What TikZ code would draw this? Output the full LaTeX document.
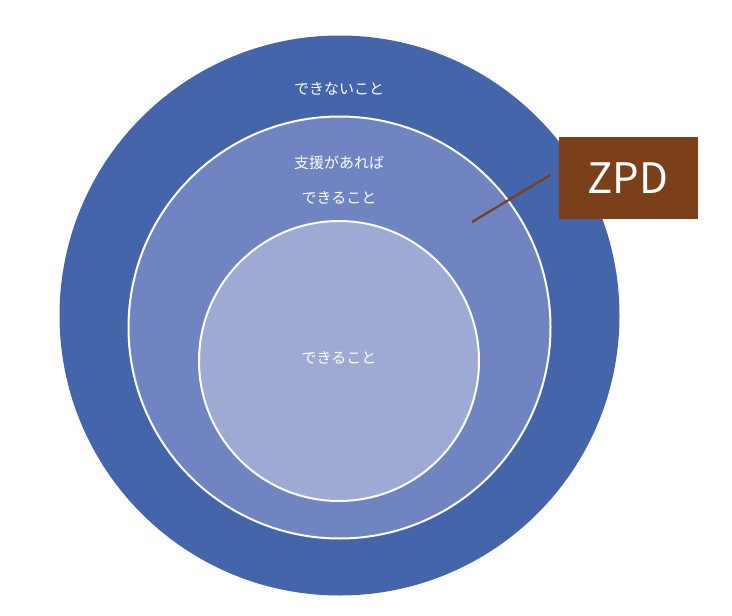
\documentclass[tikz,border=0pt]{standalone}
\usepackage{fontspec}
\setmainfont{Noto Sans CJK JP}
\usetikzlibrary{positioning}
\definecolor{outerblue}{HTML}{4565AB}
\definecolor{middleblue}{HTML}{6F84C0}
\definecolor{innerblue}{HTML}{9FAAD4}
\definecolor{zpdbrown}{HTML}{7B3F1A}

\begin{document}
\begin{tikzpicture}[
                    x=1pt, y=-1pt,
                    ring/.style={circle, draw=white, line width=2pt},
                    label/.style={text=white, font=\fontsize{15}{17}\selectfont, inner sep=0pt},
                    zpdbox/.style={rectangle, fill=zpdbrown, text=white, minimum width=139pt, minimum height=82pt, font=\fontsize{42}{46}\selectfont},
                    lead/.style={draw=zpdbrown, line width=2.2pt}
                ]
                    \useasboundingbox (0,0) rectangle (732,616);
                    \node[circle, fill=outerblue, minimum size=560pt, inner sep=0pt] (outer) at (339.5,315.5) {};
                    \node[ring, fill=middleblue, minimum size=422pt, inner sep=0pt] (middle) at (339.5,327.5) {};
                    \node[ring, fill=innerblue, minimum size=280pt, inner sep=0pt] (inner) at (339,361) {};

                    \node[label] (cannot) at (339,89) {できないこと};
                    \node[label] (support) at (339,163) {支援があれば};
                    \node[label, below=21pt of support] (assisted) {できること};
                    \node[label] (can) at (339,358) {できること};

                    \node[zpdbox] (zpd) at (628,178) {ZPD};
                    \coordinate (leadend) at (472,222);
                    \draw[lead] (leadend) -- ([xshift=-8pt,yshift=3pt]zpd.west);
                \end{tikzpicture}
\end{document}
